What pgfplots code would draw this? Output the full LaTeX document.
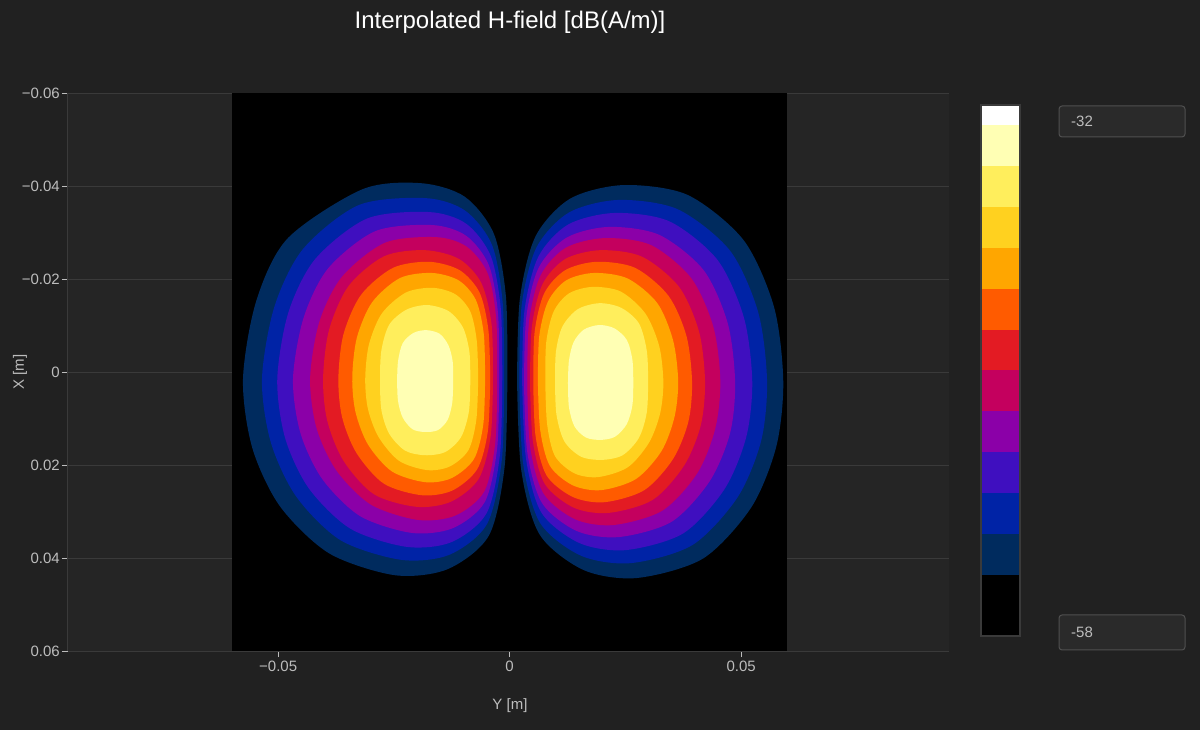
\documentclass[border=0pt]{standalone}
\usepackage{fontspec}
\setmainfont{Liberation Sans}
\usepackage{pgfplots}
\pgfplotsset{compat=1.18}
\definecolor{pagebg}{HTML}{212121}
\definecolor{plotbg}{HTML}{252525}
\definecolor{gridc}{HTML}{3A3A3A}
\definecolor{tickc}{HTML}{BDBDBD}
\definecolor{boxf}{HTML}{2A2A2A}
\definecolor{boxb}{HTML}{505050}
\definecolor{cA}{HTML}{002B5E}
\definecolor{cB}{HTML}{0023A6}
\definecolor{cC}{HTML}{3F0FBF}
\definecolor{cD}{HTML}{8B00A8}
\definecolor{cE}{HTML}{C4005E}
\definecolor{cF}{HTML}{E31B23}
\definecolor{cG}{HTML}{FF5B00}
\definecolor{cH}{HTML}{FFA600}
\definecolor{cI}{HTML}{FFD11F}
\definecolor{cJ}{HTML}{FFEE5C}
\definecolor{cK}{HTML}{FFFFB4}
\begin{document}
\begin{tikzpicture}[x=1pt,y=1pt]
\useasboundingbox (0,0) rectangle (1200,730);
\fill[pagebg] (0,0) rectangle (1200,730);
\begin{axis}[
  at={(68pt,79pt)}, anchor=south west, scale only axis,
  width=881pt, height=558pt,
  xmin=-0.0954, xmax=0.0949, ymin=-0.06, ymax=0.06, y dir=reverse,
  scaled ticks=false,
  axis background/.style={fill=plotbg},
  axis x line*=bottom, axis y line*=left,
  axis line style={draw=gridc, line width=1pt},
  xtick={-0.05,0,0.05}, xticklabels={−0.05,0,0.05},
  ytick={-0.06,-0.04,-0.02,0,0.02,0.04,0.06},
  yticklabels={−0.06,−0.04,−0.02,0,0.02,0.04,0.06},
  ymajorgrids, major grid style={draw=gridc, line width=1pt},
  tick align=outside, major tick length=6pt,
  every tick/.style={draw=tickc, line width=1pt},
  tick label style={font=\fontsize{15}{18}\selectfont, text=tickc},
  yticklabel style={inner sep=2pt},
  xlabel={Y [m]}, ylabel={X [m]},
  title={Interpolated H-field [dB(A/m)]},
  label style={font=\fontsize{15}{18}\selectfont, text=tickc},
  xlabel style={at={(axis description cs:0.5017,-0.0986)}, anchor=center},
  ylabel style={at={(axis description cs:-0.0545,0.5)}, anchor=center},
  title style={at={(axis description cs:0.5017,1.1165)}, anchor=center,
    font=\fontsize{24}{28}\selectfont, text=white},
]
\addplot[fill=black, draw=none] coordinates {(-0.06,-0.06) (0.06,-0.06) (0.06,0.06) (-0.06,0.06)} -- cycle;
% ---------- left lobe ----------
\addplot[fill=cA, draw=none, smooth] coordinates {(-0.0005,0.0015) (-0.0011,0.0205) (-0.0045,0.0352) (-0.0134,0.0424) (-0.0248,0.0437) (-0.0390,0.0390) (-0.0496,0.0289) (-0.0556,0.0163) (-0.0576,0.0015) (-0.0547,-0.0154) (-0.0479,-0.0288) (-0.0318,-0.0393) (-0.0191,-0.0406) (-0.0097,-0.0377) (-0.0034,-0.0297) (-0.0008,-0.0162) (-0.0005,0.0015)} -- cycle;
\addplot[fill=cB, draw=none, smooth] coordinates {(-0.0012,0.0015) (-0.0017,0.0190) (-0.0049,0.0327) (-0.0130,0.0393) (-0.0234,0.0404) (-0.0365,0.0362) (-0.0461,0.0268) (-0.0516,0.0151) (-0.0535,0.0015) (-0.0508,-0.0141) (-0.0446,-0.0265) (-0.0326,-0.0359) (-0.0182,-0.0374) (-0.0096,-0.0347) (-0.0038,-0.0273) (-0.0015,-0.0148) (-0.0012,0.0015)} -- cycle;
\addplot[fill=cC, draw=none, smooth] coordinates {(-0.0016,0.0016) (-0.0021,0.0178) (-0.0050,0.0304) (-0.0126,0.0366) (-0.0223,0.0376) (-0.0344,0.0337) (-0.0434,0.0250) (-0.0485,0.0142) (-0.0502,0.0016) (-0.0478,-0.0128) (-0.0420,-0.0243) (-0.0308,-0.0330) (-0.0174,-0.0344) (-0.0094,-0.0319) (-0.0041,-0.0250) (-0.0019,-0.0135) (-0.0016,0.0016)} -- cycle;
\addplot[fill=cD, draw=none, smooth] coordinates {(-0.0023,0.0015) (-0.0027,0.0164) (-0.0054,0.0280) (-0.0123,0.0336) (-0.0212,0.0346) (-0.0323,0.0310) (-0.0405,0.0230) (-0.0452,0.0131) (-0.0468,0.0015) (-0.0445,-0.0117) (-0.0392,-0.0223) (-0.0290,-0.0303) (-0.0167,-0.0316) (-0.0094,-0.0293) (-0.0045,-0.0230) (-0.0025,-0.0124) (-0.0023,0.0015)} -- cycle;
\addplot[fill=cE, draw=none, smooth] coordinates {(-0.0027,0.0014) (-0.0031,0.0151) (-0.0055,0.0257) (-0.0118,0.0309) (-0.0199,0.0318) (-0.0300,0.0285) (-0.0374,0.0212) (-0.0417,0.0121) (-0.0431,0.0014) (-0.0411,-0.0108) (-0.0362,-0.0205) (-0.0269,-0.0278) (-0.0158,-0.0290) (-0.0092,-0.0269) (-0.0047,-0.0211) (-0.0029,-0.0114) (-0.0027,0.0014)} -- cycle;
\addplot[fill=cF, draw=none, smooth] coordinates {(-0.0036,0.0014) (-0.0041,0.0138) (-0.0067,0.0230) (-0.0127,0.0279) (-0.0201,0.0290) (-0.0293,0.0263) (-0.0359,0.0191) (-0.0394,0.0105) (-0.0403,0.0014) (-0.0390,-0.0091) (-0.0348,-0.0185) (-0.0271,-0.0249) (-0.0183,-0.0262) (-0.0109,-0.0243) (-0.0061,-0.0191) (-0.0039,-0.0102) (-0.0036,0.0014)} -- cycle;
\addplot[fill=cG, draw=none, smooth] coordinates {(-0.0042,0.0014) (-0.0047,0.0127) (-0.0070,0.0209) (-0.0124,0.0255) (-0.0190,0.0265) (-0.0272,0.0240) (-0.0331,0.0174) (-0.0362,0.0097) (-0.0370,0.0014) (-0.0359,-0.0081) (-0.0321,-0.0166) (-0.0252,-0.0224) (-0.0174,-0.0237) (-0.0108,-0.0219) (-0.0065,-0.0171) (-0.0046,-0.0091) (-0.0042,0.0014)} -- cycle;
\addplot[fill=cH, draw=none, smooth] coordinates {(-0.0053,0.0012) (-0.0057,0.0113) (-0.0077,0.0187) (-0.0125,0.0228) (-0.0182,0.0237) (-0.0254,0.0214) (-0.0306,0.0156) (-0.0333,0.0086) (-0.0340,0.0012) (-0.0330,-0.0074) (-0.0297,-0.0150) (-0.0237,-0.0202) (-0.0168,-0.0213) (-0.0110,-0.0197) (-0.0073,-0.0155) (-0.0056,-0.0083) (-0.0053,0.0012)} -- cycle;
\addplot[fill=cI, draw=none, smooth] coordinates {(-0.0068,0.0015) (-0.0072,0.0103) (-0.0089,0.0168) (-0.0129,0.0203) (-0.0178,0.0211) (-0.0239,0.0191) (-0.0283,0.0140) (-0.0306,0.0080) (-0.0312,0.0015) (-0.0304,-0.0059) (-0.0276,-0.0126) (-0.0224,-0.0171) (-0.0166,-0.0181) (-0.0117,-0.0167) (-0.0085,-0.0130) (-0.0071,-0.0067) (-0.0068,0.0015)} -- cycle;
\addplot[fill=cJ, draw=none, smooth] coordinates {(-0.0085,0.0017) (-0.0088,0.0085) (-0.0105,0.0140) (-0.0139,0.0172) (-0.0183,0.0179) (-0.0226,0.0169) (-0.0260,0.0133) (-0.0277,0.0082) (-0.0280,0.0017) (-0.0277,-0.0047) (-0.0260,-0.0102) (-0.0223,-0.0134) (-0.0178,-0.0144) (-0.0132,-0.0131) (-0.0101,-0.0096) (-0.0087,-0.0044) (-0.0085,0.0017)} -- cycle;
\addplot[fill=cK, draw=none, smooth] coordinates {(-0.0122,0.0019) (-0.0124,0.0066) (-0.0134,0.0103) (-0.0155,0.0125) (-0.0183,0.0129) (-0.0210,0.0123) (-0.0231,0.0098) (-0.0241,0.0063) (-0.0243,0.0019) (-0.0241,-0.0024) (-0.0231,-0.0062) (-0.0208,-0.0084) (-0.0180,-0.0090) (-0.0151,-0.0082) (-0.0132,-0.0057) (-0.0123,-0.0022) (-0.0122,0.0019)} -- cycle;
% ---------- right lobe ----------
\addplot[fill=cA, draw=none, smooth] coordinates {(0.0016,0.0020) (0.0025,0.0211) (0.0065,0.0350) (0.0160,0.0426) (0.0275,0.0443) (0.0418,0.0401) (0.0522,0.0291) (0.0576,0.0160) (0.0591,0.0020) (0.0571,-0.0140) (0.0505,-0.0284) (0.0384,-0.0381) (0.0246,-0.0402) (0.0131,-0.0373) (0.0056,-0.0292) (0.0022,-0.0157) (0.0016,0.0020)} -- cycle;
\addplot[fill=cB, draw=none, smooth] coordinates {(0.0021,0.0020) (0.0029,0.0196) (0.0066,0.0325) (0.0154,0.0395) (0.0262,0.0411) (0.0395,0.0372) (0.0492,0.0270) (0.0543,0.0149) (0.0556,0.0020) (0.0537,-0.0128) (0.0476,-0.0261) (0.0363,-0.0350) (0.0235,-0.0370) (0.0128,-0.0343) (0.0058,-0.0268) (0.0026,-0.0144) (0.0021,0.0020)} -- cycle;
\addplot[fill=cC, draw=none, smooth] coordinates {(0.0027,0.0020) (0.0035,0.0184) (0.0069,0.0303) (0.0151,0.0368) (0.0251,0.0383) (0.0375,0.0347) (0.0464,0.0252) (0.0511,0.0140) (0.0524,0.0020) (0.0506,-0.0117) (0.0449,-0.0241) (0.0345,-0.0324) (0.0226,-0.0342) (0.0126,-0.0317) (0.0062,-0.0248) (0.0032,-0.0132) (0.0027,0.0020)} -- cycle;
\addplot[fill=cD, draw=none, smooth] coordinates {(0.0031,0.0022) (0.0038,0.0172) (0.0070,0.0282) (0.0145,0.0342) (0.0236,0.0355) (0.0350,0.0322) (0.0432,0.0235) (0.0476,0.0132) (0.0487,0.0022) (0.0471,-0.0105) (0.0419,-0.0219) (0.0323,-0.0295) (0.0214,-0.0312) (0.0123,-0.0289) (0.0063,-0.0225) (0.0036,-0.0119) (0.0031,0.0022)} -- cycle;
\addplot[fill=cE, draw=none, smooth] coordinates {(0.0038,0.0020) (0.0044,0.0159) (0.0073,0.0261) (0.0142,0.0317) (0.0225,0.0329) (0.0330,0.0298) (0.0405,0.0218) (0.0444,0.0122) (0.0455,0.0020) (0.0440,-0.0097) (0.0392,-0.0202) (0.0305,-0.0273) (0.0205,-0.0288) (0.0121,-0.0267) (0.0067,-0.0208) (0.0042,-0.0109) (0.0038,0.0020)} -- cycle;
\addplot[fill=cF, draw=none, smooth] coordinates {(0.0044,0.0020) (0.0050,0.0148) (0.0076,0.0241) (0.0139,0.0292) (0.0214,0.0303) (0.0309,0.0275) (0.0377,0.0201) (0.0413,0.0114) (0.0422,0.0020) (0.0409,-0.0087) (0.0366,-0.0183) (0.0286,-0.0248) (0.0196,-0.0262) (0.0120,-0.0243) (0.0071,-0.0189) (0.0048,-0.0098) (0.0044,0.0020)} -- cycle;
\addplot[fill=cG, draw=none, smooth] coordinates {(0.0051,0.0022) (0.0056,0.0138) (0.0080,0.0223) (0.0137,0.0269) (0.0205,0.0280) (0.0291,0.0254) (0.0353,0.0187) (0.0386,0.0107) (0.0394,0.0022) (0.0382,-0.0077) (0.0343,-0.0164) (0.0271,-0.0224) (0.0188,-0.0237) (0.0120,-0.0219) (0.0075,-0.0170) (0.0054,-0.0087) (0.0051,0.0022)} -- cycle;
\addplot[fill=cH, draw=none, smooth] coordinates {(0.0061,0.0020) (0.0066,0.0125) (0.0087,0.0202) (0.0137,0.0244) (0.0198,0.0254) (0.0273,0.0230) (0.0328,0.0170) (0.0356,0.0097) (0.0364,0.0020) (0.0353,-0.0068) (0.0319,-0.0148) (0.0255,-0.0201) (0.0182,-0.0213) (0.0122,-0.0197) (0.0083,-0.0152) (0.0064,-0.0078) (0.0061,0.0020)} -- cycle;
\addplot[fill=cI, draw=none, smooth] coordinates {(0.0077,0.0022) (0.0081,0.0113) (0.0098,0.0181) (0.0140,0.0218) (0.0191,0.0226) (0.0255,0.0205) (0.0301,0.0152) (0.0325,0.0089) (0.0332,0.0022) (0.0323,-0.0056) (0.0293,-0.0126) (0.0240,-0.0173) (0.0179,-0.0183) (0.0128,-0.0169) (0.0095,-0.0130) (0.0079,-0.0064) (0.0077,0.0022)} -- cycle;
\addplot[fill=cJ, draw=none, smooth] coordinates {(0.0098,0.0020) (0.0101,0.0091) (0.0118,0.0149) (0.0154,0.0182) (0.0199,0.0189) (0.0244,0.0179) (0.0279,0.0142) (0.0296,0.0088) (0.0299,0.0020) (0.0296,-0.0047) (0.0279,-0.0105) (0.0241,-0.0138) (0.0194,-0.0148) (0.0147,-0.0135) (0.0114,-0.0098) (0.0100,-0.0044) (0.0098,0.0020)} -- cycle;
\addplot[fill=cK, draw=none, smooth] coordinates {(0.0126,0.0023) (0.0128,0.0075) (0.0140,0.0117) (0.0165,0.0141) (0.0197,0.0146) (0.0228,0.0139) (0.0253,0.0112) (0.0265,0.0072) (0.0267,0.0023) (0.0265,-0.0027) (0.0253,-0.0069) (0.0226,-0.0094) (0.0193,-0.0101) (0.0160,-0.0091) (0.0138,-0.0064) (0.0128,-0.0024) (0.0126,0.0023)} -- cycle;
\end{axis}
% ---------- colour bar ----------
\begin{axis}[
  at={(981pt,94pt)}, anchor=south west, scale only axis,
  width=39pt, height=531pt,
  xmin=0, xmax=1, ymin=-58, ymax=-32,
  xtick=\empty, ytick=\empty, axis on top,
  axis line style={draw=gridc, line width=1.5pt},
]
\addplot[fill=black, draw=none] coordinates {(0,-58) (1,-58) (1,-55) (0,-55)} -- cycle;
\addplot[fill=cA, draw=none] coordinates {(0,-55) (1,-55) (1,-53) (0,-53)} -- cycle;
\addplot[fill=cB, draw=none] coordinates {(0,-53) (1,-53) (1,-51) (0,-51)} -- cycle;
\addplot[fill=cC, draw=none] coordinates {(0,-51) (1,-51) (1,-49) (0,-49)} -- cycle;
\addplot[fill=cD, draw=none] coordinates {(0,-49) (1,-49) (1,-47) (0,-47)} -- cycle;
\addplot[fill=cE, draw=none] coordinates {(0,-47) (1,-47) (1,-45) (0,-45)} -- cycle;
\addplot[fill=cF, draw=none] coordinates {(0,-45) (1,-45) (1,-43) (0,-43)} -- cycle;
\addplot[fill=cG, draw=none] coordinates {(0,-43) (1,-43) (1,-41) (0,-41)} -- cycle;
\addplot[fill=cH, draw=none] coordinates {(0,-41) (1,-41) (1,-39) (0,-39)} -- cycle;
\addplot[fill=cI, draw=none] coordinates {(0,-39) (1,-39) (1,-37) (0,-37)} -- cycle;
\addplot[fill=cJ, draw=none] coordinates {(0,-37) (1,-37) (1,-35) (0,-35)} -- cycle;
\addplot[fill=cK, draw=none] coordinates {(0,-35) (1,-35) (1,-33) (0,-33)} -- cycle;
\addplot[fill=white, draw=none] coordinates {(0,-33) (1,-33) (1,-32) (0,-32)} -- cycle;
\end{axis}
% ---------- range boxes ----------
\draw[boxb, fill=boxf, line width=1pt, rounded corners=3pt] (1059,593) rectangle (1185,624);
\node[anchor=west, text=tickc, font=\fontsize{15}{18}\selectfont, inner sep=0pt] at (1071,608.5) {-32};
\draw[boxb, fill=boxf, line width=1pt, rounded corners=3pt] (1059,80) rectangle (1185,115);
\node[anchor=west, text=tickc, font=\fontsize{15}{18}\selectfont, inner sep=0pt] at (1071,97.5) {-58};
\end{tikzpicture}
\end{document}
